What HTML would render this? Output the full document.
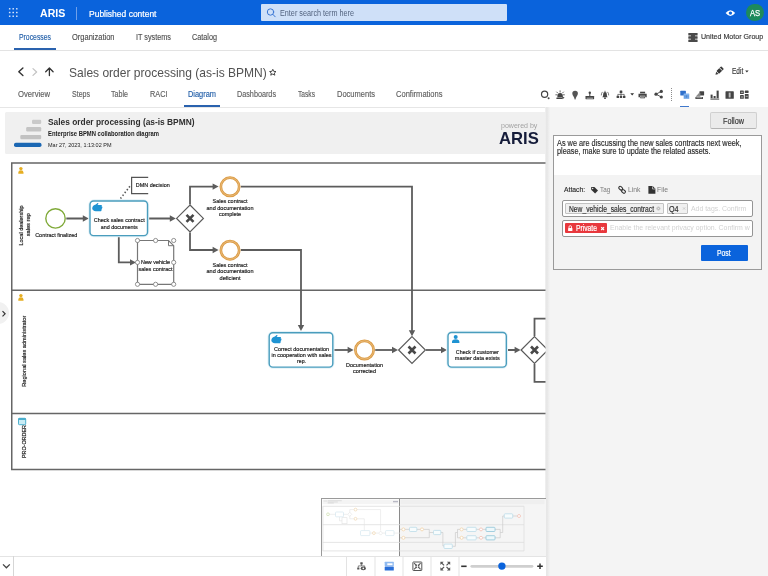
<!DOCTYPE html>
<html>
<head>
<meta charset="utf-8">
<title>ARIS - Sales order processing (as-is BPMN)</title>
<style>
html,body{margin:0;padding:0;}
body{width:768px;height:576px;overflow:hidden;background:#fff;position:relative;font-family:"Liberation Sans",sans-serif;}
.a{position:absolute;}
.t{position:absolute;white-space:pre;transform-origin:0 50%;font-family:"Liberation Sans",sans-serif;}
svg{position:absolute;left:0;top:0;overflow:visible;}
svg text{font-family:"Liberation Sans",sans-serif;fill:#222;}
</style>
</head>
<body>
<div id="root" style="position:absolute;left:0;top:0;width:768px;height:576px;will-change:transform;">
<!-- top bar -->
<div class="a" style="left:0;top:0;width:768px;height:25.300px;background:#0a63dc;"></div>
<div class="a" style="left:261px;top:4px;width:246px;height:17px;background:#cfe0f8;border-radius:1px;"></div>
<div class="a" style="left:76px;top:7px;width:1px;height:12.5px;background:#6fa0ea;"></div>
<div class="a" style="left:746.400px;top:3.800px;width:17.500px;height:17.500px;border-radius:50%;background:#1d8a5c;"></div>
<!-- nav bar -->
<div class="a" style="left:0;top:50px;width:768px;height:1px;background:#e3e3e3;"></div>
<div class="a" style="left:14px;top:47.600px;width:41.500px;height:2.600px;background:#2a62ae;"></div>
<!-- tabs row -->
<div class="a" style="left:0;top:106.5px;width:768px;height:1px;background:#e6e6e6;"></div>
<div class="a" style="left:184px;top:104.700px;width:36px;height:2.500px;background:#2a62ae;"></div>
<div class="a" style="left:680.200px;top:105.800px;width:9.200px;height:1.600px;background:#3f78cc;"></div>
<!-- left strip & diagram header -->
<div class="a" style="left:5px;top:112.300px;width:540.400px;height:41.900px;background:#f0f0f0;border-radius:1.500px 0 0 1.500px;"></div>
<!-- vertical separator between diagram and right panel -->
<div class="a" style="left:545.400px;top:107px;width:4.200px;height:469px;background:linear-gradient(90deg,#f2f2f2 0,#e5e5e5 35%,#ececec 65%,#f4f4f4 100%);"></div>
<!-- right panel -->
<div class="a" style="left:549.500px;top:107px;width:218.500px;height:469px;background:#f4f4f4;"></div>
<div class="a" style="left:710px;top:112px;width:46.600px;height:16.500px;background:#ebebeb;border:1px solid #d0d0d0;border-bottom-color:#b4b4b4;border-radius:2px;box-sizing:border-box;"></div>
<div class="a" style="left:553px;top:135px;width:209.300px;height:135px;background:#f3f3f3;border:1px solid #9a9a9a;box-sizing:border-box;"></div>
<div class="a" style="left:554px;top:136px;width:207.300px;height:39.300px;background:#fff;"></div>
<div class="a" style="left:561.800px;top:199.600px;width:191px;height:17px;background:#fff;border:1px solid #959595;box-sizing:border-box;border-radius:2px;"></div>
<div class="a" style="left:561.800px;top:219.800px;width:191px;height:17px;background:#fff;border:1px solid #959595;box-sizing:border-box;border-radius:2px;"></div>
<div class="a" style="left:565.400px;top:203.200px;width:98.400px;height:10.800px;background:#f0f0f0;border:1px solid #c2c2c2;box-sizing:border-box;border-radius:1px;"></div>
<div class="a" style="left:667.300px;top:203.200px;width:21.200px;height:10.800px;background:#f0f0f0;border:1px solid #c2c2c2;box-sizing:border-box;border-radius:1px;"></div>
<div class="a" style="left:565.200px;top:223.300px;width:42.100px;height:10.200px;background:#e8383d;border-radius:1px;"></div>
<div class="a" style="left:700.700px;top:244.800px;width:47px;height:16.400px;background:#0a63dc;border-radius:1px;"></div>
<!-- bottom toolbar -->
<div class="a" style="left:0;top:556px;width:546px;height:20px;background:#fff;border-top:1px solid #e4e4e4;box-sizing:border-box;"></div>
<div class="a" style="left:13px;top:556px;width:1px;height:20px;background:#d6d6d6;"></div>
<!-- minimap -->
<div class="a" style="left:320.500px;top:497.500px;width:225px;height:58.500px;background:#f5f5f5;border:1px solid #9a9a9a;border-right:none;border-bottom:none;box-sizing:border-box;"></div>
<div class="a" style="left:321.500px;top:498.500px;width:77.800px;height:57.500px;background:#fff;border-right:1px solid #8a8a8a;"></div>
<!-- left collapse handle -->
<div class="a" style="left:-12.600px;top:302px;width:22px;height:22px;border-radius:50%;background:#f1f1f1;"></div>

<span class="t" style="left:40px;top:5.72px;font-size:11.5px;line-height:14.95px;color:#fff;font-weight:700;transform:scaleX(0.9205);">ARIS</span>
<span class="t" style="left:88.5px;top:8.79px;font-size:9.1px;line-height:11.83px;color:#fff;font-weight:400;transform:scaleX(0.9334);-webkit-text-stroke:.22px #fff;">Published content</span>
<span class="t" style="left:280px;top:7.67px;font-size:8.5px;line-height:11.05px;color:#52627e;font-weight:400;transform:scaleX(0.8512);">Enter search term here</span>
<span class="t" style="left:750px;top:9.17px;font-size:8.2px;line-height:10.66px;color:#fff;font-weight:400;transform:scaleX(0.9326);-webkit-text-stroke:.25px #fff;">AS</span>
<span class="t" style="left:19px;top:32.48px;font-size:8.8px;line-height:11.44px;color:#215ea8;font-weight:400;transform:scaleX(0.7790);-webkit-text-stroke:.15px currentColor;">Processes</span>
<span class="t" style="left:72px;top:32.48px;font-size:8.8px;line-height:11.44px;color:#505050;font-weight:400;transform:scaleX(0.8519);-webkit-text-stroke:.15px currentColor;">Organization</span>
<span class="t" style="left:136px;top:32.48px;font-size:8.8px;line-height:11.44px;color:#505050;font-weight:400;transform:scaleX(0.8260);-webkit-text-stroke:.15px currentColor;">IT systems</span>
<span class="t" style="left:192px;top:32.48px;font-size:8.8px;line-height:11.44px;color:#505050;font-weight:400;transform:scaleX(0.8243);-webkit-text-stroke:.15px currentColor;">Catalog</span>
<span class="t" style="left:700.8px;top:32.03px;font-size:8.1px;line-height:10.53px;color:#333;font-weight:400;transform:scaleX(0.8751);-webkit-text-stroke:.15px currentColor;">United Motor Group</span>
<span class="t" style="left:68.5px;top:64.02px;font-size:13.2px;line-height:17.16px;color:#525252;font-weight:400;transform:scaleX(0.9118);">Sales order processing (as-is BPMN)</span>
<span class="t" style="left:731.8px;top:65.77px;font-size:8.5px;line-height:11.05px;color:#333;font-weight:400;transform:scaleX(0.7642);-webkit-text-stroke:.15px currentColor;">Edit</span>
<span class="t" style="left:18px;top:89.28px;font-size:8.8px;line-height:11.44px;color:#606060;font-weight:400;transform:scaleX(0.8726);-webkit-text-stroke:.15px currentColor;">Overview</span>
<span class="t" style="left:71.5px;top:89.28px;font-size:8.8px;line-height:11.44px;color:#606060;font-weight:400;transform:scaleX(0.8000);-webkit-text-stroke:.15px currentColor;">Steps</span>
<span class="t" style="left:111px;top:89.28px;font-size:8.8px;line-height:11.44px;color:#606060;font-weight:400;transform:scaleX(0.8083);-webkit-text-stroke:.15px currentColor;">Table</span>
<span class="t" style="left:149.5px;top:89.28px;font-size:8.8px;line-height:11.44px;color:#606060;font-weight:400;transform:scaleX(0.8321);-webkit-text-stroke:.15px currentColor;">RACI</span>
<span class="t" style="left:188px;top:89.28px;font-size:8.8px;line-height:11.44px;color:#215ea8;font-weight:400;transform:scaleX(0.8421);-webkit-text-stroke:.15px currentColor;">Diagram</span>
<span class="t" style="left:237px;top:89.28px;font-size:8.8px;line-height:11.44px;color:#606060;font-weight:400;transform:scaleX(0.8221);-webkit-text-stroke:.15px currentColor;">Dashboards</span>
<span class="t" style="left:298px;top:89.28px;font-size:8.8px;line-height:11.44px;color:#606060;font-weight:400;transform:scaleX(0.7556);-webkit-text-stroke:.15px currentColor;">Tasks</span>
<span class="t" style="left:336.5px;top:89.28px;font-size:8.8px;line-height:11.44px;color:#606060;font-weight:400;transform:scaleX(0.8539);-webkit-text-stroke:.15px currentColor;">Documents</span>
<span class="t" style="left:396px;top:89.28px;font-size:8.8px;line-height:11.44px;color:#606060;font-weight:400;transform:scaleX(0.8566);-webkit-text-stroke:.15px currentColor;">Confirmations</span>
<span class="t" style="left:47.5px;top:117.25px;font-size:9.0px;line-height:11.7px;color:#2e2e2e;font-weight:700;transform:scaleX(0.9298);">Sales order processing (as-is BPMN)</span>
<span class="t" style="left:47.5px;top:130.01px;font-size:6.6px;line-height:8.58px;color:#1c1c1c;font-weight:700;transform:scaleX(0.8910);">Enterprise BPMN collaboration diagram</span>
<span class="t" style="left:47.5px;top:141.96px;font-size:5.6px;line-height:7.28px;color:#222;font-weight:400;transform:scaleX(0.9816);">Mar 27, 2023, 1:13:02 PM</span>
<span class="t" style="left:500.6px;top:121.98px;font-size:6.5px;line-height:8.45px;color:#a2a2a2;font-weight:400;transform:scaleX(1.0830);">powered by</span>
<span class="t" style="left:499px;top:127.64px;font-size:16.7px;line-height:21.71px;color:#151c3a;font-weight:700;transform:scaleX(0.9981);">ARIS</span>
<span class="t" style="left:723px;top:115.81px;font-size:8.6px;line-height:11.18px;color:#333;font-weight:400;transform:scaleX(0.8453);-webkit-text-stroke:.15px currentColor;">Follow</span>
<span class="t" style="left:556.5px;top:137.94px;font-size:8.4px;line-height:10.92px;color:#2a2a2a;font-weight:400;transform:scaleX(0.8749);-webkit-text-stroke:.15px currentColor;">As we are discussing the new sales contracts next week,</span>
<span class="t" style="left:556.5px;top:145.94px;font-size:8.4px;line-height:10.92px;color:#2a2a2a;font-weight:400;transform:scaleX(0.8699);-webkit-text-stroke:.15px currentColor;">please, make sure to update the related assets.</span>
<span class="t" style="left:564.3px;top:185.34px;font-size:8.1px;line-height:10.53px;color:#2a2a2a;font-weight:400;transform:scaleX(0.8412);-webkit-text-stroke:.15px currentColor;">Attach:</span>
<span class="t" style="left:599.6px;top:185.34px;font-size:8.1px;line-height:10.53px;color:#7a7a7a;font-weight:400;transform:scaleX(0.7809);">Tag</span>
<span class="t" style="left:627.5px;top:185.34px;font-size:8.1px;line-height:10.53px;color:#7a7a7a;font-weight:400;transform:scaleX(0.8412);">Link</span>
<span class="t" style="left:657px;top:185.34px;font-size:8.1px;line-height:10.53px;color:#7a7a7a;font-weight:400;transform:scaleX(0.8431);">File</span>
<span class="t" style="left:568.6px;top:203.54px;font-size:8.4px;line-height:10.92px;color:#2a2a2a;font-weight:400;transform:scaleX(0.8008);-webkit-text-stroke:.15px currentColor;">New_vehicle_sales_contract</span>
<span class="t" style="left:669.2px;top:203.54px;font-size:8.4px;line-height:10.92px;color:#2a2a2a;font-weight:400;transform:scaleX(0.8581);-webkit-text-stroke:.15px currentColor;">Q4</span>
<span class="t" style="left:691.3px;top:203.64px;font-size:8.1px;line-height:10.53px;color:#d2d2d2;font-weight:400;transform:scaleX(0.8521);">Add tags. Confirm</span>
<span class="t" style="left:575.8px;top:223.24px;font-size:8.4px;line-height:10.92px;color:#fff;font-weight:400;transform:scaleX(0.8053);-webkit-text-stroke:.22px #fff;">Private</span>
<span class="t" style="left:609.6px;top:223.44px;font-size:8.1px;line-height:10.53px;color:#d2d2d2;font-weight:400;transform:scaleX(0.8584);">Enable the relevant privacy option. Confirm w</span>
<span class="t" style="left:717.4px;top:247.68px;font-size:8.8px;line-height:11.44px;color:#fff;font-weight:400;transform:scaleX(0.7723);-webkit-text-stroke:.22px #fff;">Post</span>

<svg width="768" height="576" viewBox="0 0 768 576">
<defs>
<clipPath id="dc"><rect x="5" y="156" width="540.5" height="340"/></clipPath>
</defs>
<g clip-path="url(#dc)" fill="none" stroke="#666" stroke-width="1.2">
<!-- pool -->
<path d="M11 162.900H560M11 290.200H560M11 413.400H560M11 469.600H560M11.750 162.200V470.300" stroke="#666" stroke-width="1.500"/>
<!-- flows -->
<g stroke="#5c5c5c" stroke-width="1.800" stroke-linejoin="miter">
<path d="M66.300 218.500H84"/>
<path d="M148.300 218.500H171"/>
<path d="M190 204.500V186.600H213"/>
<path d="M190 232.400V250H213"/>
<path d="M240.800 186.600H412V332"/>
<path d="M240.800 250H301V326"/>
<path d="M118.800 236.200V262.400H131"/>
<path d="M333.500 350H348.500"/>
<path d="M375.200 350H393.500"/>
<path d="M426 350H442.500"/>
<path d="M506.600 350H516"/>
<path d="M534.500 336V318.600H560M534.500 364V381.800H560"/>
</g>
<g fill="#5c5c5c" stroke="none">
<path d="M88.800 218.500l-6-3.200v6.400z"/>
<path d="M175.800 218.500l-6-3.200v6.400z"/>
<path d="M218.600 186.600l-6-3.200v6.400z"/>
<path d="M218.600 250l-6-3.200v6.400z"/>
<path d="M136 262.400l-6-3.200v6.400z"/>
<path d="M412 336.300l-3.200-6h6.400z"/>
<path d="M301 331l-3.200-6h6.400z"/>
<path d="M353.600 350l-6-3.200v6.400z"/>
<path d="M398 350l-6-3.200v6.400z"/>
<path d="M447 350l-6-3.200v6.400z"/>
<path d="M520.600 350l-6-3.200v6.400z"/>
</g>
<!-- DMN annotation -->
<path d="M148.200 177.400H131.600V193.600H148.200" stroke="#555" stroke-width="1.200"/>
<path d="M120.500 198.500L130.400 185.600" stroke="#555" stroke-width="1.600" stroke-dasharray="1.400 2.100"/>
<!-- start event -->
<circle cx="55.500" cy="218.400" r="9.700" fill="#fff" stroke="#80aa3a" stroke-width="1.400"/>
<!-- tasks -->
<g fill="#fff" stroke="#e3f2f8" stroke-width="3.400">
<rect x="90" y="201" width="57.500" height="34.600" rx="4"/>
<rect x="269.200" y="332.800" width="63.600" height="34.300" rx="4"/>
<rect x="448" y="332.500" width="58.300" height="34.600" rx="4"/>
</g>
<g fill="#fff" stroke="#4a9dbd" stroke-width="1.400">
<rect x="90" y="201" width="57.500" height="34.600" rx="3.600"/>
<rect x="269.200" y="332.800" width="63.600" height="34.300" rx="3.600"/>
<rect x="448" y="332.500" width="58.300" height="34.600" rx="3.600"/>
</g>
<!-- gateways -->
<g fill="#fff" stroke="#5a5a5a" stroke-width="1.200">
<path d="M190 205L203.400 218.400L190 231.800L176.600 218.400Z"/>
<path d="M412 336.600L425.400 350L412 363.400L398.600 350Z"/>
<path d="M534.500 336.600L547.900 350L534.500 363.400L521.100 350Z"/>
</g>
<g stroke="#484848" stroke-width="2.600">
<path d="M186.500 214.900l7 7M193.500 214.900l-7 7"/>
<path d="M408.500 346.500l7 7M415.500 346.500l-7 7"/>
<path d="M531 346.500l7 7M538 346.500l-7 7"/>
</g>
<!-- intermediate events -->
<g fill="#fff" stroke="#dc9c45">
<circle cx="230" cy="186.800" r="9.150" stroke-width="2.700"/>
<circle cx="230" cy="250.200" r="9.150" stroke-width="2.700"/>
<circle cx="364.500" cy="350" r="9.150" stroke-width="2.700"/>
</g>
<g fill="none" stroke="#ecc48c" stroke-width=".7">
<circle cx="230" cy="186.800" r="9.150"/>
<circle cx="230" cy="250.200" r="9.150"/>
<circle cx="364.500" cy="350" r="9.150"/>
</g>
<!-- document (selected) -->
<path d="M137.500 240.500H168.500L173.700 245.700V284.300H137.500Z" fill="#fff" stroke="#777" stroke-width="1.200"/>
<path d="M168.500 240.500V245.700H173.700" stroke="#777" stroke-width="1"/>
<g fill="#fff" stroke="#777" stroke-width=".800">
<circle cx="137.500" cy="240.500" r="2.100"/><circle cx="155.600" cy="240.500" r="2.100"/><circle cx="173.700" cy="240.500" r="2.100"/>
<circle cx="137.500" cy="262.400" r="2.100"/><circle cx="173.700" cy="262.400" r="2.100"/>
<circle cx="137.500" cy="284.300" r="2.100"/><circle cx="155.600" cy="284.300" r="2.100"/><circle cx="173.700" cy="284.300" r="2.100"/>
</g>
</g>

<!-- lane icons -->
<g fill="#e6ae22">
<circle cx="20.900" cy="168.600" r="1.700"/>
<path d="M18.300 173.800v-1.400a2.600 2.200 0 0 1 5.200 0v1.400z"/>
<circle cx="20.900" cy="295.600" r="1.700"/>
<path d="M18.300 300.800v-1.400a2.600 2.200 0 0 1 5.200 0v1.400z"/>
</g>
<rect x="18.500" y="418.300" width="7.200" height="6.400" rx=".8" fill="#c9ecf5" stroke="#3fa9c9" stroke-width=".9"/>
<rect x="18.500" y="418.300" width="7.200" height="1.600" fill="#3fa9c9" stroke="none"/>
<!-- task icons: hands -->
<g fill="#1f93d2" stroke="none">
<path transform="translate(92 203.300) scale(1.120)" d="M.2 4.700c0-2 1.500-3.400 3.200-3.600l1.300-1.100c.6-.5 1.300.2.800.8l-.7.800h3.400c.9 0 .9 1.300 0 1.300h.5c.9 0 .9 1.400 0 1.400h-.3c.9 0 .9 1.400 0 1.400h-.5c.8 0 .8 1.300 0 1.300h-4.500c-1.800 0-3.200-1-3.200-2.300z"/>
<path transform="translate(271.100 335.300) scale(1.120)" d="M.2 4.700c0-2 1.500-3.400 3.200-3.600l1.300-1.100c.6-.5 1.300.2.800.8l-.7.800h3.400c.9 0 .9 1.300 0 1.300h.5c.9 0 .9 1.400 0 1.400h-.3c.9 0 .9 1.400 0 1.400h-.5c.8 0 .8 1.300 0 1.300h-4.500c-1.800 0-3.200-1-3.200-2.300z"/>
<circle cx="455.700" cy="337" r="2"/>
<path d="M452 343.100v-1.300a3.700 2.600 0 0 1 7.400 0v1.300z"/>
</g>
<g stroke="#222" stroke-width=".18">
<text x="56.2" y="236.52" font-size="5.6" text-anchor="middle" textLength="42" lengthAdjust="spacingAndGlyphs">Contract finalized</text>
<text x="119.2" y="222.02" font-size="5.6" text-anchor="middle" textLength="51" lengthAdjust="spacingAndGlyphs">Check sales contract</text>
<text x="119.2" y="228.62" font-size="5.6" text-anchor="middle" textLength="37" lengthAdjust="spacingAndGlyphs">and documents</text>
<text x="152.8" y="187.22" font-size="5.6" text-anchor="middle" textLength="34" lengthAdjust="spacingAndGlyphs">DMN decision</text>
<text x="230" y="203.32" font-size="5.6" text-anchor="middle" textLength="35" lengthAdjust="spacingAndGlyphs">Sales contract</text>
<text x="230" y="210.02" font-size="5.6" text-anchor="middle" textLength="47" lengthAdjust="spacingAndGlyphs">and documentation</text>
<text x="230" y="216.32" font-size="5.6" text-anchor="middle" textLength="22" lengthAdjust="spacingAndGlyphs">complete</text>
<text x="230" y="266.82" font-size="5.6" text-anchor="middle" textLength="35" lengthAdjust="spacingAndGlyphs">Sales contract</text>
<text x="230" y="273.42" font-size="5.6" text-anchor="middle" textLength="47" lengthAdjust="spacingAndGlyphs">and documentation</text>
<text x="230" y="279.92" font-size="5.6" text-anchor="middle" textLength="21" lengthAdjust="spacingAndGlyphs">deficient</text>
<text x="155.5" y="264.32" font-size="5.6" text-anchor="middle" textLength="29" lengthAdjust="spacingAndGlyphs">New vehicle</text>
<text x="155.5" y="271.12" font-size="5.6" text-anchor="middle" textLength="34" lengthAdjust="spacingAndGlyphs">sales contract</text>
<text x="301.5" y="350.72" font-size="5.6" text-anchor="middle" textLength="55" lengthAdjust="spacingAndGlyphs">Correct documentation</text>
<text x="301.5" y="357.02" font-size="5.6" text-anchor="middle" textLength="60" lengthAdjust="spacingAndGlyphs">in cooperation with sales</text>
<text x="301.5" y="363.02" font-size="5.6" text-anchor="middle" textLength="9" lengthAdjust="spacingAndGlyphs">rep.</text>
<text x="364.5" y="367.02" font-size="5.6" text-anchor="middle" textLength="37" lengthAdjust="spacingAndGlyphs">Documentation</text>
<text x="364.5" y="373.22" font-size="5.6" text-anchor="middle" textLength="23" lengthAdjust="spacingAndGlyphs">corrected</text>
<text x="477.3" y="353.72" font-size="5.6" text-anchor="middle" textLength="43" lengthAdjust="spacingAndGlyphs">Check if customer</text>
<text x="477.3" y="359.92" font-size="5.6" text-anchor="middle" textLength="45" lengthAdjust="spacingAndGlyphs">master data exists</text>
<text transform="translate(21,225.5) rotate(-90)" x="0" y="1.94" font-size="5.4" text-anchor="middle" textLength="40" lengthAdjust="spacingAndGlyphs">Local dealership</text>
<text transform="translate(27.8,224.8) rotate(-90)" x="0" y="1.94" font-size="5.4" text-anchor="middle" textLength="23" lengthAdjust="spacingAndGlyphs">sales rep</text>
<text transform="translate(24,351.2) rotate(-90)" x="0" y="1.94" font-size="5.4" text-anchor="middle" textLength="71" lengthAdjust="spacingAndGlyphs">Regional sales administrator</text>
<text transform="translate(24,441.6) rotate(-90)" x="0" y="1.94" font-size="5.4" text-anchor="middle" textLength="33" lengthAdjust="spacingAndGlyphs">PRO-ORDER</text>
</g>


<!-- ===== MINIMAP CONTENT ===== -->
<g id="mini" fill="none">
<rect x="322.600" y="499.600" width="76" height="4.600" fill="#f4f4f4"/>
<rect x="400.500" y="499.600" width="144" height="4.600" fill="#efefef"/>
<path d="M323.500 501h3.800M327.800 500.700h14M327.800 502h10M327.800 503h6" stroke="#cfcfcf" stroke-width=".6"/>
<path d="M393 501.600h5" stroke="#b8b8c4" stroke-width="1.400"/>
<!-- pool -->
<path d="M322.700 506.300H524M322.700 524.700H524M322.700 542.400H524M322.700 550.900H524M322.900 506.300V550.900M524 506.300V550.900" stroke="#dedede" stroke-width=".8"/>
<!-- viewport flows -->
<g stroke="#e2e2e2" stroke-width=".6">
<path d="M329.500 514.300h6M343.500 514.300h4M349.800 512.400v-2.800h4M349.800 516v2.800h4M357 509.600h23.600v21M357 518.800h7.300v11.500M339.500 517v3.800h2.500"/>
<rect x="335.500" y="512" width="8" height="4.800" rx=".8" stroke="#cfe3ec"/>
<rect x="342" y="517.700" width="5" height="6"/>
<rect x="360.500" y="530.600" width="9.400" height="5" rx=".8" stroke="#cfe3ec"/>
<rect x="385.600" y="530.600" width="8.400" height="5" rx=".8" stroke="#cfe3ec"/>
<path d="M369.900 533.100h2.500M375.400 533.100h3M382.600 533.100h3M394 533.100h6"/>
<path d="M380.600 531.100l2 2-2 2-2-2zM349.800 512.300l2 2-2 2-2-2z"/>
</g>
<g stroke="#f0d9b8" stroke-width=".8"><circle cx="328" cy="514.300" r="1.400" stroke="#d3e2b8"/><circle cx="355.500" cy="509.600" r="1.400"/><circle cx="355.500" cy="518.800" r="1.400"/><circle cx="373.900" cy="533.100" r="1.400"/></g>
<!-- right part flows -->
<g stroke="#cbcbcb" stroke-width=".7">
<path d="M400 529.400h2M404.800 529.400h4.700M416.800 529.400h3.800M423.500 529.400h5.800v8.300h-24.500M400 537.800h2M429.300 532.500h4.200M440.800 532.500h2.100v13.500h1.100M452.300 546.300h3.100v-13.800h2.100M457.500 529.400v8.400M457.500 529.400h2.600M457.500 537.800h2.600M463.100 529.400h3.700M463.100 537.800h3.700M476.200 529.400h3.300M476.200 537.800h3.300M482.500 529.400h3.500M482.500 537.800h3.500M495 529.400h5.200v8.400H495M500.200 532.500h2.500v-16.500h1.600M512.700 516h4.800"/>
</g>
<g stroke="#b4d9e6" stroke-width=".7" fill="#f7fcfd">
<rect x="409.500" y="527.300" width="7.300" height="4.200" rx=".8"/>
<rect x="433.500" y="530.400" width="7.300" height="4.200" rx=".8"/>
<rect x="444" y="544.100" width="8.300" height="4.400" rx=".8"/>
<rect x="466.800" y="527.300" width="9.400" height="4.200" rx=".8"/>
<rect x="466.800" y="535.700" width="9.400" height="4.200" rx=".8"/>
<rect x="504.300" y="513.800" width="8.400" height="4.300" rx=".8"/>
</g>
<g stroke="#8fc5d8" stroke-width=".8" fill="#eef8fb">
<rect x="486" y="527.300" width="9" height="4.200" rx=".8"/>
<rect x="486" y="535.700" width="9" height="4.200" rx=".8"/>
</g>
<g stroke="#f1d3a8" stroke-width=".8" fill="#fff">
<circle cx="403.400" cy="529.400" r="1.500"/><circle cx="403.400" cy="537.800" r="1.500"/><circle cx="422" cy="529.400" r="1.500"/>
<circle cx="461.600" cy="529.400" r="1.500"/><circle cx="461.600" cy="537.800" r="1.500"/>
</g>
<g stroke="#f2c0b4" stroke-width=".8" fill="#fff">
<circle cx="481" cy="529.400" r="1.500"/><circle cx="481" cy="537.800" r="1.500"/><circle cx="519" cy="516" r="1.500"/>
</g>
</g>
<!-- ===== ICONS ===== -->
<g id="icons">
<!-- app grid -->
<g fill="#d5e4fb">
<rect x="8.9" y="8" width="1.6" height="1.6" rx=".4"/><rect x="12.4" y="8" width="1.6" height="1.6" rx=".4"/><rect x="16" y="8" width="1.6" height="1.6" rx=".4"/>
<rect x="8.9" y="11.7" width="1.6" height="1.6" rx=".4"/><rect x="12.4" y="11.7" width="1.6" height="1.6" rx=".4"/><rect x="16" y="11.7" width="1.6" height="1.6" rx=".4"/>
<rect x="8.9" y="15.4" width="1.6" height="1.6" rx=".4"/><rect x="12.4" y="15.4" width="1.6" height="1.6" rx=".4"/><rect x="16" y="15.4" width="1.6" height="1.6" rx=".4"/>
</g>
<!-- search in box -->
<g fill="none" stroke="#3a76d4" stroke-width="1" stroke-linecap="round"><circle cx="270.500" cy="12" r="3.200"/><path d="M272.900 14.400L275.200 16.800"/></g>
<!-- eye -->
<path d="M725.600 13.100Q730.400 7.300 735.200 13.100Q730.400 18.900 725.600 13.100Z" fill="#fff"/>
<circle cx="730.400" cy="13.100" r="1.700" fill="#0a63dc"/>
<!-- company icon -->
<g fill="#4a4a4a">
<rect x="688.300" y="33" width="9.300" height="2.500" rx=".5"/>
<rect x="688.300" y="36.300" width="9.300" height="2.500" rx=".5"/>
<rect x="688.300" y="39.600" width="9.300" height="2.500" rx=".5"/>
<rect x="691" y="33" width="4" height="9"/>
</g>
<!-- nav arrows -->
<g fill="none" stroke-linecap="round" stroke-linejoin="round">
<path d="M22.900 67.900L18.800 71.700L22.900 75.500" stroke="#333" stroke-width="1.400"/>
<path d="M33 68.600L36.600 72L33 75.400" stroke="#c4c4c4" stroke-width="1.300"/>
<path d="M49.400 68.200V75.600M45.700 71.700L49.400 68L53.100 71.700" stroke="#333" stroke-width="1.300"/>
</g>
<!-- star -->
<path d="M272.800 69.300l.95 2.050 2.250.2-1.700 1.500.55 2.150-2.050-1.150-2.050 1.150.55-2.150-1.700-1.500 2.250-.2z" fill="none" stroke="#444" stroke-width="1" stroke-linejoin="round"/>
<!-- pencil -->
<g transform="translate(719.600 70.600) rotate(-45)">
<rect x="-2.600" y="-1.900" width="6.800" height="3.800" rx=".7" fill="#3a3a3a"/>
<path d="M-3.200 -1.700L-5.800 0L-3.200 1.700Z" fill="#3a3a3a"/>
<rect x="1.600" y="-1.900" width=".7" height="3.800" fill="#fff"/>
</g>
<!-- edit caret -->
<path d="M745.200 70.500h3.400l-1.700 2z" fill="#333"/>

<!-- toolbar: search -->
<g fill="none" stroke="#444" stroke-width="1.200"><circle cx="544.600" cy="94.300" r="3.100"/></g>
<circle cx="548.600" cy="98.300" r="1" fill="#444"/>
<!-- toolbar: siren -->
<g fill="#444">
<path d="M557.400 97.200v-1.600a2.700 2.700 0 0 1 5.400 0v1.600z"/>
<rect x="556.400" y="97.600" width="5.600" height="1.500" rx=".3"/>
<path d="M562.200 96.200l2.400 1.500-2.400 1.500z"/>
</g>
<g stroke="#444" stroke-width=".8" stroke-linecap="round"><path d="M560.100 90.800v1.200M556.700 92l.9.900M563.500 92l-.9.900M555.800 94.800h1M563.400 94.800h1"/></g>
<!-- toolbar: pin -->
<path d="M575.100 90.800a2.800 2.800 0 0 1 2.800 2.800c0 2-2.100 3.400-2.400 5.900h-.8c-.3-2.500-2.400-3.900-2.400-5.900a2.800 2.800 0 0 1 2.800-2.800z" fill="#555"/>
<!-- toolbar: stamp -->
<g fill="#444">
<circle cx="589.800" cy="92.800" r="1.200"/>
<rect x="589.300" y="93.200" width="1" height="3.200"/>
<rect x="585.500" y="96" width="8.600" height="3.200" rx=".4"/>
</g>
<rect x="586.600" y="97.800" width="6.400" height=".6" fill="#fff"/>
<!-- toolbar: bell -->
<g fill="#444">
<path d="M602.300 97.200c.9-.8.800-2.300.9-3.300a1.800 1.800 0 0 1 3.600 0c.1 1 0 2.500.9 3.300z"/>
<circle cx="605" cy="98.200" r=".9"/>
<rect x="604.600" y="90.800" width=".8" height="1.400"/>
</g>
<g fill="none" stroke="#444" stroke-width=".7" stroke-linecap="round"><path d="M602.200 92.200q-1 1.200-.9 2.800M607.800 92.200q1 1.200.9 2.800"/></g>
<!-- toolbar: hierarchy -->
<g fill="#444">
<rect x="619.700" y="90.600" width="2.600" height="2.400" rx=".3"/>
<rect x="616.600" y="95.800" width="2.400" height="2.300" rx=".3"/>
<rect x="619.800" y="95.800" width="2.400" height="2.300" rx=".3"/>
<rect x="623" y="95.800" width="2.400" height="2.300" rx=".3"/>
</g>
<path d="M621 93v1.400M617.800 95.800v-1.400h6.400v1.400M621 94.400v1.400" fill="none" stroke="#444" stroke-width=".7"/>
<path d="M630.300 93.300h3.800l-1.900 2.100z" fill="#333"/>
<!-- toolbar: printer -->
<g fill="#444">
<rect x="640.100" y="91.700" width="5" height="1.700"/>
<path d="M638.500 93.800h8.200v3.400h-1.500v-1.500h-5.200v1.500h-1.500z"/>
<rect x="640.300" y="96.300" width="4.600" height="2" />
</g>
<rect x="641" y="96.900" width="3.200" height=".5" fill="#fff"/>
<!-- toolbar: share -->
<g fill="#444"><circle cx="661.300" cy="91.400" r="1.600"/><circle cx="656" cy="94.200" r="1.600"/><circle cx="661.300" cy="97" r="1.600"/></g>
<path d="M661.300 91.400L656 94.200L661.300 97" fill="none" stroke="#444" stroke-width=".9"/>
<!-- dotted separator -->
<path d="M671.500 88V102" stroke="#8c8c8c" stroke-width="1" stroke-dasharray="1 1" fill="none" shape-rendering="crispEdges"/>
<!-- toolbar: blue model icon -->
<rect x="680.300" y="90.800" width="5.600" height="4.600" rx=".5" fill="#2f70cb"/>
<rect x="683.600" y="93.600" width="5.700" height="5.300" rx=".5" fill="#84b4ed"/>
<path d="M685 95.200v2.600M686.500 95.200v2.600M688 95.200v2.600" stroke="#2468c2" stroke-width=".6" fill="none"/>
<!-- toolbar: icon A (model w/ arrow) -->
<g fill="#444">
<rect x="699.400" y="91.300" width="4.700" height="4.200" rx=".4"/>
<rect x="695.400" y="96.900" width="7.600" height="2.200" rx=".3"/>
<path d="M695.600 96.700l3.400-3.800h1.400v3.800z" fill="#8a8a8a"/>
</g>
<rect x="696.300" y="97.600" width="5.800" height=".5" fill="#fff"/>
<!-- toolbar: bar chart -->
<g fill="#444">
<rect x="710.600" y="94.600" width="2" height="3.600"/>
<rect x="713.600" y="96" width="2" height="2.200"/>
<rect x="716.600" y="90.600" width="2.100" height="7.600"/>
<rect x="710.400" y="98.600" width="8.800" height="1"/>
</g>
<!-- toolbar: panel icon -->
<rect x="725.500" y="91.300" width="8.300" height="7.500" rx=".6" fill="#444"/>
<rect x="728.700" y="92.600" width="1.900" height="4.900" fill="#bbb"/>
<!-- toolbar: grid/dashboard -->
<g fill="#444">
<rect x="740" y="90.500" width="3.800" height="3.600" rx=".4"/>
<rect x="744.800" y="90.500" width="3.800" height="2.400" rx=".4"/>
<rect x="740" y="95.100" width="3.800" height="3.700" rx=".4"/>
<rect x="744.800" y="93.900" width="3.800" height="4.900" rx=".4"/>
</g>
<path d="M740.800 92.300h2.200M745.600 96.300h2.200M740.800 97h2.200" stroke="#fff" stroke-width=".6" fill="none"/>

<!-- diagram header icon -->
<rect x="32" y="119.700" width="9.200" height="4.300" rx="1.200" fill="#c9c9c9"/>
<rect x="26.200" y="127.100" width="15" height="4.300" rx="1.200" fill="#c4c4c4"/>
<rect x="20.300" y="134.900" width="20.900" height="4.300" rx="1.200" fill="#c2c2c2"/>
<rect x="14" y="142.700" width="27.500" height="4.300" rx="1.800" fill="#1b67b3"/>

<!-- collapse handle chevron -->
<path d="M2.500 311.200L5.100 313.800L2.500 316.400" fill="none" stroke="#333" stroke-width="1.200"/>
<!-- bottom-left chevron -->
<path d="M3 564.400L6.400 567.800L9.800 564.400" fill="none" stroke="#444" stroke-width="1.300"/>

<!-- attach icons -->
<path d="M591.200 187h3.200l3.600 3.600-2.900 2.900-3.900-3.700z" fill="#333"/>
<circle cx="592.700" cy="188.500" r=".7" fill="#f3f3f3"/>
<g fill="none" stroke="#333" stroke-width="1.100"><rect x="618.600" y="186.800" width="4.200" height="2.800" rx="1.400" transform="rotate(40 620.700 188.200)"/><rect x="621.400" y="190" width="4.200" height="2.800" rx="1.400" transform="rotate(40 623.500 191.400)"/></g>
<path d="M648.400 186.100h4.300l2.700 2.700v5h-7z" fill="#333"/>
<path d="M652.500 186.300v2.700h2.700" fill="none" stroke="#f3f3f3" stroke-width=".6"/>
<!-- chip x icons -->
<circle cx="658.400" cy="208.500" r="2" fill="#bdbdbd"/>
<path d="M657.500 207.600l1.800 1.800M659.300 207.600l-1.800 1.800" stroke="#f1f1f1" stroke-width=".6"/>
<path d="M683 207.400l2.200 2.200M685.200 207.400l-2.200 2.200" stroke="#bdbdbd" stroke-width=".7"/>
<!-- lock -->
<rect x="568.100" y="227.900" width="4.300" height="3.200" rx=".5" fill="#fff"/>
<path d="M569 228.100v-1.200a1.250 1.250 0 0 1 2.500 0v1.200" fill="none" stroke="#fff" stroke-width=".85"/>
<path d="M601.200 227.100l2.800 2.900M604 227.100l-2.800 2.900" stroke="#fff" stroke-width="1.200"/>

<!-- bottom toolbar separators -->
<path d="M346.500 557V576M375 557V576M403 557V576M431 557V576M459 557V576" stroke="#e3e3e3" stroke-width="1" fill="none"/>
<!-- bt icon 1: hierarchy w/ eye -->
<g fill="#555">
<rect x="360.300" y="562.200" width="2.400" height="2.200" rx=".3"/>
<rect x="357.200" y="567.400" width="2.200" height="2.200" rx=".3"/>
</g>
<path d="M361.500 564.400v1.500M358.300 567.400v-1.500h6.400v1.200" fill="none" stroke="#555" stroke-width=".7"/>
<ellipse cx="363.300" cy="568.400" rx="2.700" ry="1.800" fill="#555"/>
<circle cx="363.300" cy="568.400" r=".8" fill="#fff"/>
<!-- bt icon 2: blue -->
<rect x="384.700" y="561.700" width="9.100" height="4.400" rx=".5" fill="#8fbaf0"/>
<rect x="387.300" y="563.300" width="5.200" height="1.900" fill="#fff"/>
<rect x="384.700" y="566.600" width="9.100" height="3.900" rx=".5" fill="#2a6fd8"/>
<!-- bt icon 3: fit -->
<rect x="412.900" y="562" width="8.900" height="8.500" rx=".5" fill="#fff" stroke="#555" stroke-width="1"/>
<g fill="#555">
<path d="M416.500 565.600l-2.400-2.400M418.200 565.600l2.400-2.400M416.500 566.900l-2.400 2.400M418.200 566.900l2.400 2.400" stroke="#555" stroke-width="1.100"/>
<path d="M415 565.900h1.800v-1.800zM419.700 565.900h-1.800v-1.800zM415 566.600h1.800v1.800zM419.700 566.600h-1.800v1.800z"/>
</g>
<!-- bt icon 4: fullscreen -->
<g fill="#555">
<path d="M440.400 561.700h3.300l-3.300 3.300zM450.200 561.700h-3.300l3.300 3.300zM440.400 570.600h3.300l-3.300-3.300zM450.200 570.600h-3.300l3.300-3.300z"/>
</g>
<g stroke="#555" stroke-width="1.200"><path d="M441.500 562.800l2.600 2.600M449.100 562.800l-2.600 2.600M441.500 569.500l2.600-2.600M449.100 569.500l-2.600-2.600"/></g>
<!-- zoom slider -->
<rect x="461.200" y="565.500" width="5.400" height="1.600" fill="#333"/>
<rect x="470.400" y="564.900" width="63" height="2.800" rx="1.400" fill="#cfcfcf"/>
<circle cx="501.900" cy="566.100" r="3.700" fill="#0a63dc"/>
<path d="M537.200 566.300h5.600M540 563.500v5.600" stroke="#333" stroke-width="1.500" fill="none"/>
</g>
</svg>
</div>
</body>
</html>
